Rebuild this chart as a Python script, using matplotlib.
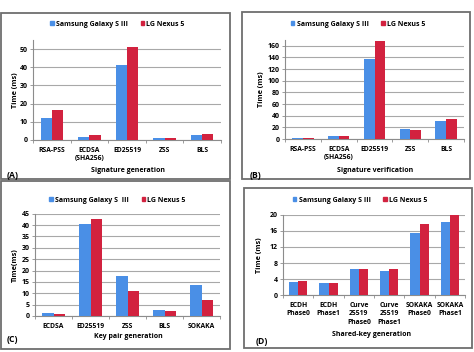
import matplotlib
matplotlib.use("Agg")
import matplotlib.pyplot as plt
from matplotlib.patches import Rectangle
import numpy as np

W, H = 474, 352
DPI = 100

series_names = ["Samsung Galaxy S III", "LG Nexus 5"]
series_names_c = ["Samsung Galaxy S  III", "LG Nexus 5"]

a_cats = ["RSA-PSS", "ECDSA\n(SHA256)", "ED25519", "ZSS", "BLS"]
a_samsung = [12.3, 1.8, 41.0, 1.2, 2.8]
a_lg = [16.3, 2.5, 51.0, 1.2, 3.1]

b_cats = ["RSA-PSS", "ECDSA\n(SHA256)", "ED25519", "ZSS", "BLS"]
b_samsung = [2.5, 4.5, 138.0, 18.0, 31.0]
b_lg = [1.5, 6.0, 168.0, 16.0, 35.0]

c_cats = ["ECDSA", "ED25519", "ZSS", "BLS", "SOKAKA"]
c_samsung = [1.3, 40.5, 17.5, 2.8, 13.7]
c_lg = [0.8, 42.8, 10.8, 2.2, 7.2]

d_cats = ["ECDH\nPhase0", "ECDH\nPhase1", "Curve\n25519\nPhase0",
          "Curve\n25519\nPhase1", "SOKAKA\nPhase0", "SOKAKA\nPhase1"]
d_samsung = [3.2, 3.1, 6.4, 6.1, 15.6, 18.3]
d_lg = [3.4, 3.1, 6.5, 6.5, 17.7, 20.0]

BLUE = "#4A8FE6"
RED = "#D2223F"
GRID = "#A8A8A8"
FONT = "Open Sans"

plt.rcParams["font.family"] = [FONT, "DejaVu Sans"]
plt.rcParams["font.weight"] = "bold"

fig = plt.figure(figsize=(W / DPI, H / DPI), dpi=DPI)


def rect(x0, y0, x1, y1):
    return [x0 / W, 1 - y1 / H, (x1 - x0) / W, (y1 - y0) / H]


def fx(x):
    return x / W


def fy(y):
    return 1 - y / H


def panel(box, axbox, cats, s1, s2, ylim, yticks, ylabel, xlabel, tag,
          tagpos, xlabpos, ylabx, legy, names, ticklinesp=1.25):
    x0, y0, x1, y1 = box
    fig.patches.append(Rectangle((fx(x0), fy(y1)), fx(x1 - x0), (y1 - y0) / H,
                                 transform=fig.transFigure, fill=False,
                                 edgecolor="#6E6E6E", linewidth=1.3))
    ax = fig.add_axes(rect(*axbox))
    x = np.arange(len(cats))
    w = 0.3
    ax.bar(x - w / 2, s1, w, color=BLUE, zorder=3)
    ax.bar(x + w / 2, s2, w, color=RED, zorder=3)
    ax.set_xlim(-0.5, len(cats) - 0.5)
    ax.set_ylim(*ylim)
    ax.set_yticks(yticks)
    ax.set_yticklabels([str(t) for t in yticks], fontsize=5.0, fontweight="bold")
    ax.yaxis.grid(True, color=GRID, linewidth=0.8, zorder=0)
    ax.set_axisbelow(True)
    for s in ["top", "right"]:
        ax.spines[s].set_visible(False)
    for s in ["left", "bottom"]:
        ax.spines[s].set_color("#8C8C8C")
        ax.spines[s].set_linewidth(0.8)
    ax.tick_params(axis="y", length=2, width=0.6, color="#8C8C8C", pad=2)
    ax.set_xticks(x)
    ax.set_xticklabels(cats, fontsize=4.9, fontweight="bold",
                       linespacing=ticklinesp)
    ax.tick_params(axis="x", length=0, pad=5)
    ax.set_xticks(np.arange(len(cats) + 1) - 0.5, minor=True)
    ax.tick_params(axis="x", which="minor", length=2, width=0.6, color="#8C8C8C")
    ymid = (axbox[1] + axbox[3]) / 2
    fig.text(fx(ylabx), fy(ymid), ylabel, rotation=90, ha="center",
             va="center", fontsize=5.2, fontweight="bold")
    fig.text(fx(xlabpos[0]), fy(xlabpos[1]), xlabel, ha="center",
             va="center", fontsize=5.0, fontweight="bold")
    fig.text(fx(tagpos[0]), fy(tagpos[1]), tag, ha="left", va="center",
             fontsize=6.2, fontweight="bold")
    cx = (x0 + x1) / 2
    h1 = plt.Rectangle((0, 0), 1, 1, color=BLUE)
    h2 = plt.Rectangle((0, 0), 1, 1, color=RED)
    fig.legend([h1, h2], names, loc="center",
               bbox_to_anchor=(fx(cx + 2), fy(legy)), ncol=2, frameon=False,
               handlelength=0.55, handleheight=0.55,
               handletextpad=0.3, columnspacing=1.8, borderpad=0,
               prop={"weight": "bold", "size": 5.0, "family": [FONT]})
    return ax


panel((1, 13, 230, 179), (33, 40, 221, 140), a_cats, a_samsung, a_lg,
      (0, 55), [0, 10, 20, 30, 40, 50], "Time (ms)", "Signature generation",
      "(A)", (7, 176), (128, 171), 15, 24, series_names)

panel((242, 12, 470, 179), (285, 40, 464, 139), b_cats, b_samsung, b_lg,
      (0, 170), [0, 20, 40, 60, 80, 100, 120, 140, 160], "Time (ms)",
      "Signature verification", "(B)", (250, 176), (375, 171), 262, 24,
      series_names)

panel((1, 181, 230, 349), (35, 213.7, 220, 316), c_cats, c_samsung, c_lg,
      (0, 45), [0, 5, 10, 15, 20, 25, 30, 35, 40, 45], "Time(ms)",
      "Key pair generation", "(C)", (7, 340), (128, 336), 15, 200,
      series_names_c)

panel((244, 188, 472, 348), (283, 215, 465, 295), d_cats, d_samsung, d_lg,
      (0, 20), [0, 4, 8, 12, 16, 20], "Time (ms)",
      "Shared-key generation", "(D)", (256, 341), (372, 334), 260, 200,
      series_names, ticklinesp=1.3)

fig.savefig("out.png", dpi=DPI, facecolor="white")
